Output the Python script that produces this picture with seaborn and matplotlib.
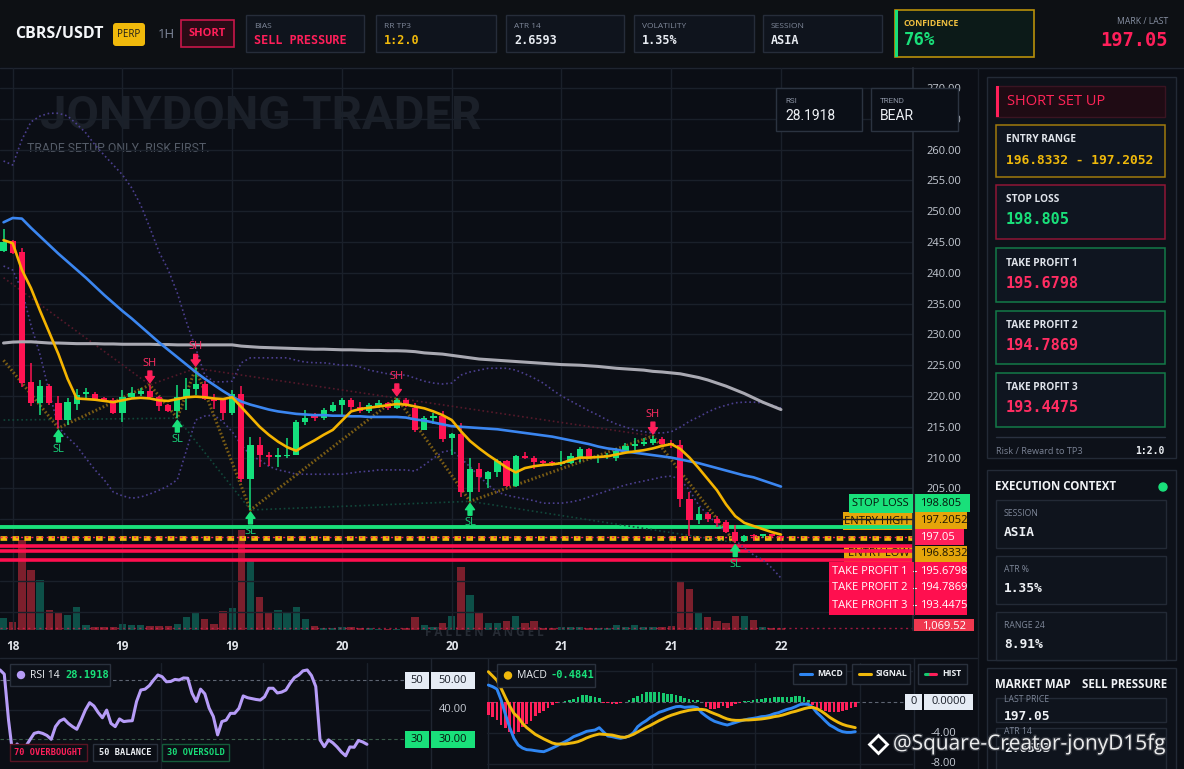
import numpy as np
import pandas as pd
import seaborn as sns
import matplotlib.pyplot as plt
from matplotlib.patches import Rectangle, FancyBboxPatch, Circle
import matplotlib.patheffects as pe

# ---------------------------------------
# Price data (1H candles)
# ---------------------------------------
opens = [243.6, 245.2, 243.4, 222.2, 218.8, 221.6, 218.8, 216.1, 218.7, 220.3,
         220.3, 219.6, 219.35, 217.3, 219.8, 220.3, 220.8, 219.8, 218.55, 217.6,
         219.8, 221.1, 222.0, 219.5, 219.5, 217.2, 220.3, 206.6, 212.0, 210.4,
         210.1, 210.2, 210.4, 215.7, 216.7, 216.4, 217.6, 218.5, 219.35, 218.2,
         217.6, 218.3, 218.8, 218.0, 219.35, 218.0, 214.5, 216.4, 216.75, 213.2,
         213.8, 204.4, 208.2, 206.6, 207.7, 209.45, 205.4, 210.3, 210.0, 209.45,
         209.3, 209.0, 209.05, 210.05, 211.4, 210.0, 210.1, 209.9, 211.0, 211.9,
         212.2, 212.4, 213.0, 212.3, 212.0, 203.35, 199.8, 200.8, 200.0, 199.5,
         198.0, 196.4, 197.3, 197.2, 197.3, 197.25]
highs = [247.1, 245.3, 244.0, 225.4, 222.6, 221.9, 220.0, 219.7, 221.1, 221.3,
         220.6, 219.9, 219.7, 220.9, 221.5, 221.3, 221.8, 220.0, 218.7, 221.8,
         222.9, 224.5, 222.4, 220.3, 219.7, 220.9, 221.6, 213.3, 213.3, 210.9,
         211.6, 213.2, 216.1, 217.7, 217.2, 218.0, 219.0, 219.7, 219.7, 219.0,
         218.9, 219.35, 219.0, 219.7, 219.6, 218.9, 216.75, 217.3, 217.5, 214.0,
         215.6, 209.9, 209.1, 207.8, 209.7, 209.6, 210.5, 210.85, 210.3, 209.6,
         209.5, 211.0, 210.7, 211.7, 211.6, 210.4, 210.7, 211.5, 212.4, 213.2,
         213.2, 213.5, 213.3, 212.9, 212.9, 204.4, 202.0, 201.2, 200.5, 199.8,
         199.0, 197.45, 197.6, 197.6, 197.4, 197.35]
lows = [243.3, 243.0, 221.4, 218.3, 216.9, 218.5, 214.8, 215.3, 217.7, 219.4,
        219.2, 219.0, 217.1, 215.7, 219.7, 220.0, 219.7, 217.6, 217.4, 216.4,
        217.7, 220.2, 219.4, 217.9, 216.1, 216.9, 206.0, 201.5, 208.5, 208.6,
        208.5, 209.9, 210.4, 215.3, 215.9, 216.1, 217.4, 216.8, 217.7, 217.2,
        217.2, 218.0, 217.7, 217.9, 218.2, 214.2, 214.4, 215.5, 212.6, 210.5,
        203.6, 202.9, 204.4, 205.0, 206.8, 205.2, 205.2, 209.7, 208.2, 208.7,
        208.6, 208.7, 208.9, 209.3, 209.8, 209.1, 209.7, 209.5, 210.8, 211.2,
        211.9, 212.1, 211.8, 211.5, 201.9, 197.2, 199.3, 199.6, 198.7, 197.7,
        196.2, 196.3, 196.4, 197.0, 197.1, 196.4]
closes = [245.05, 243.2, 222.1, 218.8, 221.6, 218.8, 216.1, 219.1, 220.2, 220.5,
          219.5, 219.35, 217.2, 219.8, 220.55, 220.8, 219.8, 218.4, 217.6, 219.8,
          221.1, 222.0, 219.5, 219.25, 217.2, 220.3, 206.6, 212.0, 210.4, 210.1,
          210.4, 210.4, 215.8, 216.5, 216.4, 217.7, 218.55, 219.35, 218.2, 217.6,
          218.55, 218.8, 218.0, 219.35, 218.5, 214.5, 216.5, 216.75, 213.1, 213.9,
          204.4, 208.2, 206.8, 207.7, 209.45, 205.4, 210.3, 209.9, 209.3, 209.05,
          209.05, 209.2, 210.3, 211.4, 210.05, 210.15, 210.2, 211.0, 211.9, 212.2,
          212.6, 213.0, 212.2, 212.1, 203.35, 199.8, 200.8, 200.0, 199.4, 198.0,
          196.4, 197.3, 197.2, 197.55, 197.25, 197.05]
volumes = [7300, 5200, 56700, 38000, 31700, 12800, 11500, 9600, 14700, 3300,
           1700, 1700, 1700, 4000, 3300, 3300, 2700, 2300, 2300, 4000,
           8400, 11500, 7100, 4000, 12200, 14000, 63200, 43700, 21000, 10900,
           12800, 10900, 14700, 7100, 2700, 1450, 1450, 2100, 2100, 1450,
           1450, 820, 820, 820, 1450, 8400, 3300, 2100, 4600, 9000,
           39900, 22200, 11500, 4600, 4600, 5900, 9000, 4200, 5900, 1260,
           1070, 2100, 2100, 2100, 1070, 1070, 1070, 3000, 1700, 3300,
           2100, 1700, 2100, 2700, 31000, 25800, 11200, 8400, 5500, 4600,
           9000, 9000, 6500, 1700, 1070, 1070]

ema_fast = [245.3, 244.8, 240.5, 237.5, 233.8, 230.3, 226.8, 222.8, 219.6, 219.5,
            219.4, 219.2, 219.0, 219.3, 219.6, 219.7, 219.6, 219.3, 219.2, 219.5,
            219.8, 219.9, 219.8, 219.6, 219.5, 219.8, 218.2, 216.6, 215.0, 213.7,
            212.6, 211.7, 211.1, 212.0, 212.8, 213.7, 214.5, 216.0, 217.5, 217.9,
            218.1, 218.3, 218.5, 218.7, 218.6, 218.3, 218.0, 217.5, 216.9, 216.1,
            214.3, 212.7, 211.5, 210.4, 209.4, 208.4, 207.6, 208.3, 208.6, 208.8,
            208.9, 209.1, 209.6, 210.0, 210.0, 210.1, 210.2, 210.5, 210.8, 211.0,
            211.2, 211.5, 211.9, 212.2, 211.4, 210.0, 208.3, 206.5, 204.7, 202.4,
            200.5, 199.4, 198.9, 198.4, 197.9, 197.5]
ema_slow = [248.2, 248.9, 248.8, 247.3, 245.9, 244.5, 243.1, 241.8, 240.5, 239.2,
            237.8, 236.4, 235.1, 233.8, 232.6, 231.3, 230.0, 228.7, 227.5, 226.3,
            225.1, 223.9, 222.8, 221.8, 220.8, 219.9, 219.1, 218.6, 218.2, 217.8,
            217.5, 217.3, 217.1, 217.0, 216.9, 216.9, 216.8, 216.8, 216.7, 216.7,
            216.6, 216.6, 216.6, 216.6, 216.5, 216.2, 216.0, 215.7, 215.4, 215.1,
            215.0, 214.9, 214.8, 214.7, 214.6, 214.4, 214.2, 214.0, 213.8, 213.6,
            213.4, 213.1, 212.8, 212.5, 212.2, 211.8, 211.5, 211.3, 211.0, 210.8,
            210.6, 210.4, 210.2, 210.0, 209.7, 209.4, 209.1, 208.7, 208.3, 207.9,
            207.5, 207.1, 206.8, 206.3, 205.8, 205.3]
sma_long = [228.6, 228.75, 228.8, 228.8, 228.7, 228.6, 228.6, 228.55, 228.5, 228.5,
            228.5, 228.45, 228.45, 228.4, 228.4, 228.4, 228.4, 228.35, 228.35, 228.3,
            228.3, 228.3, 228.3, 228.3, 228.3, 228.3, 228.1, 228.0, 227.9, 227.85,
            227.8, 227.75, 227.7, 227.65, 227.6, 227.6, 227.55, 227.5, 227.5, 227.45,
            227.4, 227.4, 227.35, 227.35, 227.3, 227.2, 227.0, 226.9, 226.8, 226.6,
            226.4, 226.2, 226.0, 225.9, 225.8, 225.7, 225.6, 225.5, 225.4, 225.3,
            225.2, 225.1, 225.05, 225.0, 224.9, 224.8, 224.65, 224.5, 224.4, 224.3,
            224.2, 224.0, 223.9, 223.75, 223.6, 223.3, 223.0, 222.6, 222.1, 221.6,
            221.0, 220.4, 219.7, 219.0, 218.4, 217.8]
bb_upper = [258.15, 257.5, 261.6, 264.5, 265.45, 265.9, 265.9, 265.45, 264.15, 262.7,
            260.75, 259.1, 257.5, 255.9, 253.8, 251.0, 247.3, 243.4, 240.5, 236.7,
            232.0, 227.8, 223.4, 222.3, 222.3, 222.4, 225.4, 226.2, 226.2, 226.2,
            226.2, 226.2, 225.8, 225.5, 225.4, 225.4, 225.2, 225.0, 225.0, 224.7,
            224.2, 223.9, 223.6, 223.4, 223.4, 222.9, 222.4, 222.1, 221.95, 222.1,
            223.4, 223.9, 224.2, 224.5, 224.5, 224.5, 224.2, 223.6, 222.9, 222.1,
            221.0, 220.0, 219.2, 218.4, 217.6, 216.9, 216.1, 215.45, 214.95, 214.5,
            214.2, 214.0, 214.0, 214.2, 214.95, 215.9, 216.6, 217.4, 218.05, 218.5,
            218.9, 219.0, 219.0, 218.9, 218.5, 218.05]
bb_lower = [241.1, 240.45, 237.2, 231.5, 226.65, 220.65, 214.95, 213.3, 211.9, 209.9,
            208.0, 206.4, 204.4, 203.8, 203.4, 203.6, 204.1, 204.7, 205.4, 206.4,
            211.2, 216.1, 216.75, 216.9, 215.8, 214.2, 212.05, 210.4, 209.6, 208.6,
            208.0, 207.7, 207.3, 207.3, 207.3, 207.3, 207.3, 207.3, 207.5, 207.7,
            207.8, 208.0, 208.0, 208.0, 208.0, 207.8, 208.8, 209.9, 210.9, 211.2,
            209.9, 208.5, 207.0, 205.55, 204.4, 203.9, 203.6, 203.3, 203.0, 202.6,
            202.6, 202.6, 202.8, 203.1, 203.6, 204.1, 204.6, 205.1, 205.55, 205.9,
            206.2, 206.5, 206.85, 207.0, 206.4, 204.7, 202.3, 200.7, 199.2, 197.9,
            196.6, 195.3, 194.2, 193.4, 192.1, 190.45]

date_ticks = [1, 13, 25, 37, 49, 61, 73, 85]
date_labels = ['18', '19', '19', '20', '20', '21', '21', '22']

swing_high_idx = [16, 21, 43, 71]
swing_low_idx = [6, 19, 27, 51, 80]
zigzag_idx = [0, 6, 16, 19, 21, 27, 43, 51, 71, 80]
zigzag_val = [225.8, 214.8, 221.8, 216.4, 224.5, 201.5, 219.7, 202.9, 213.5, 196.2]
res_idx = [0, 16, 21, 71]
res_val = [239.2, 221.8, 224.5, 213.5]
sup_idx = [0, 19, 27, 51, 80]
sup_val = [216.1, 216.4, 201.5, 202.9, 196.2]

stop_loss = 198.805
entry_high = 197.2052
entry_low = 196.8332
last_price = 197.05
take_profits = [195.6798, 194.7869, 193.4475]
vol_ma = 1069.52

# ---------------------------------------
# Oscillators
# ---------------------------------------
rsi = [53.4, 52.0, 36.4, 24.6, 28.3, 26.8, 27.4, 29.7, 31.9, 32.3,
       31.9, 31.2, 29.9, 34.2, 36.1, 36.8, 35.3, 34.2, 33.3, 36.4,
       39.8, 42.3, 41.2, 39.0, 37.2, 39.8, 35.3, 34.2, 36.8, 35.9,
       36.1, 36.2, 42.7, 46.6, 46.9, 48.1, 50.0, 51.7, 51.1, 49.4,
       49.5, 50.2, 50.0, 50.7, 50.6, 45.5, 42.7, 46.9, 45.3, 40.5,
       37.6, 31.4, 35.9, 36.4, 38.7, 38.7, 40.4, 44.6, 44.0, 43.7,
       43.4, 43.2, 44.3, 47.2, 47.2, 45.6, 45.9, 46.6, 48.9, 50.8,
       51.7, 53.1, 53.4, 51.5, 47.8, 29.7, 27.4, 29.7, 28.7, 27.3,
       25.6, 24.3, 27.3, 27.2, 29.5, 29.0, 28.2]
macd = [2.15, 1.94, 1.64, 0.22, -1.63, -3.31, -4.73, -5.59, -5.98, -6.19,
        -6.23, -6.32, -6.40, -6.45, -6.23, -5.98, -5.72, -5.42, -5.16, -4.86,
        -4.51, -4.30, -4.08, -3.83, -3.74, -3.65, -3.35, -3.91, -4.43, -4.51,
        -4.64, -4.73, -4.60, -4.43, -4.00, -3.22, -2.79, -2.45, -2.02, -1.72,
        -1.37, -1.20, -0.99, -0.81, -0.64, -0.60, -0.73, -0.68, -0.64, -0.77,
        -1.42, -1.85, -2.23, -2.53, -2.71, -2.88, -3.01, -2.84, -2.67, -2.49,
        -2.36, -2.23, -2.15, -2.06, -1.93, -1.89, -1.76, -1.55, -1.42, -1.20,
        -0.99, -0.86, -0.64, -0.38, -0.30, -0.34, -0.73, -1.42, -1.93, -2.49,
        -3.01, -3.31, -3.65, -3.87, -3.96, -3.96, -3.87]
signal = [3.87, 3.32, 2.76, 1.73, 0.56, -0.55, -1.50, -2.02, -2.79, -3.35,
          -3.78, -4.21, -4.51, -4.81, -5.07, -5.33, -5.46, -5.46, -5.46, -5.37,
          -5.29, -5.16, -4.94, -4.68, -4.47, -4.30, -4.17, -4.21, -4.25, -4.30,
          -4.43, -4.56, -4.60, -4.43, -4.21, -3.91, -3.61, -3.31, -3.05, -2.75,
          -2.45, -2.19, -1.93, -1.72, -1.55, -1.37, -1.24, -1.11, -1.03, -0.99,
          -0.99, -1.07, -1.33, -1.55, -1.76, -2.02, -2.23, -2.36, -2.41, -2.41,
          -2.36, -2.36, -2.32, -2.28, -2.23, -2.15, -2.06, -1.93, -1.85, -1.72,
          -1.55, -1.37, -1.24, -1.07, -0.90, -0.77, -0.73, -0.90, -1.20, -1.59,
          -2.02, -2.36, -2.67, -2.92, -3.10, -3.22, -3.35]
hist = [-1.72, -1.93, -2.36, -3.01, -3.44, -3.95, -4.21, -3.87, -3.31, -2.88,
        -2.45, -1.80, -1.50, -1.24, -0.77, -0.47, -0.17, 0.02, 0.09, 0.26,
        0.39, 0.61, 0.82, 0.86, 0.78, 0.65, 0.48, -0.12, -0.21, -0.30,
        -0.30, -0.21, -0.08, 0.22, 0.48, 0.69, 1.04, 1.21, 1.29, 1.29,
        1.21, 1.12, 1.04, 0.95, 0.82, 0.69, 0.48, 0.35, 0.26, 0.18,
        -0.08, -0.73, -0.94, -0.98, -0.77, -0.60, -0.81, -0.60, -0.34, -0.12,
        0.03, 0.13, 0.22, 0.31, 0.39, 0.48, 0.48, 0.56, 0.56, 0.56,
        0.65, 0.65, 0.74, 0.74, 0.56, 0.22, -0.43, -0.86, -0.98, -1.16,
        -1.29, -1.29, -1.29, -1.20, -1.07, -0.86, -0.73]

price = pd.DataFrame({
    'i': np.arange(len(opens)), 'open': opens, 'high': highs, 'low': lows,
    'close': closes, 'volume': volumes, 'ema_fast': ema_fast,
    'ema_slow': ema_slow, 'sma_long': sma_long,
    'bb_upper': bb_upper, 'bb_lower': bb_lower,
})
osc = pd.DataFrame({'k': np.arange(len(rsi)), 'rsi': rsi, 'macd': macd,
                    'signal': signal, 'hist': hist})

# ---------------------------------------
# Styling
# ---------------------------------------
BG = '#0b0e15'
GRID = '#1a202a'
UP = '#14e07c'
DN = '#ff1352'
YEL = '#f0b90b'
GRN = '#19e07a'
RED = '#ff1f5a'
SANS = ['Open Sans', 'DejaVu Sans']
MONO = ['DejaVu Sans Mono']

sns.set_theme(style="dark", rc={'axes.facecolor': BG, 'figure.facecolor': BG})
plt.rcParams['font.family'] = SANS
plt.rcParams['lines.scale_dashes'] = False

W, H = 1184, 769
fig = plt.figure(figsize=(W / 100, H / 100), dpi=100)


def px_axes(x0, y0, x1, y1, z):
    return fig.add_axes([x0 / W, 1 - y1 / H, (x1 - x0) / W, (y1 - y0) / H], zorder=z)


def canvas(z):
    a = px_axes(0, 0, W, H, z)
    a.set_xlim(0, W)
    a.set_ylim(H, 0)
    a.axis('off')
    return a


def box(a, x0, y0, x1, y1, fc='none', ec='none', lw=1.0, z=1, r=0):
    if r:
        p = FancyBboxPatch((x0, y0), x1 - x0, y1 - y0, boxstyle=f"round,pad=0,rounding_size={r}",
                           facecolor=fc, edgecolor=ec, linewidth=lw, zorder=z)
    else:
        p = Rectangle((x0, y0), x1 - x0, y1 - y0, facecolor=fc, edgecolor=ec, linewidth=lw, zorder=z)
    a.add_patch(p)


def txt(a, x, y, s, size=8, color='white', ha='left', weight='normal', family=None, z=5, **kw):
    a.text(x, y, s, fontsize=size, color=color, ha=ha, va='center', fontweight=weight,
           family=family or SANS, zorder=z, **kw)


bg = canvas(0)
ov = canvas(10)

# backgrounds
box(bg, 0, 0, W, H, fc=BG, z=0)
box(bg, 0, 0, W, 67, fc='#0d1014', z=0.5)
bg.plot([0, W], [67.5, 67.5], color='#1f2530', lw=1, zorder=1)
bg.plot([0, 977], [657.5, 657.5], color='#1f2530', lw=1, zorder=1)
bg.plot([977.5, 977.5], [68, H], color='#1a1f29', lw=1, zorder=1)
bg.plot([487.5, 487.5], [658, H], color='#1f2530', lw=1, zorder=1)
bg.plot([430.5, 430.5], [658, H], color='#1f2530', lw=1, zorder=1)
bg.plot([913.5, 913.5], [658, H], color='#1f2530', lw=1, zorder=1)

# watermark
txt(bg, 40, 116, 'JONYDONG TRADER', size=34, color='#1b2029', weight='bold',
    family=['Roboto', 'DejaVu Sans'])
txt(bg, 27, 149, 'TRADE SETUP ONLY. RISK FIRST.', size=8.8, color='#555c68',
    family=['Roboto', 'DejaVu Sans'])
txt(bg, 425, 632, 'F A L L E N   A N G E L', size=8.5, color='#262b34', weight='bold')

# ---------------------------------------
# Main price chart
# ---------------------------------------
XL = ((0 - 3.55) / 9.146, (913 - 3.55) / 9.146)
YL = (270 - (630 - 88) / 6.16, 270 + (88 - 68) / 6.16)

axv = px_axes(0, 68, 913, 630, 1)
axv.set_xlim(XL)
axv.set_ylim(0, 562 * 630)
axv.axis('off')
vol_col = np.where(price['close'] >= price['open'], '#0d5048', '#7c1f2c')
axv.bar(price['i'], price['volume'], width=0.8, color=vol_col, linewidth=0, zorder=1)
axv.axhline(vol_ma, color=RED, lw=1, ls=(0, (1.5, 2.5)), alpha=0.6, zorder=2)

ax = px_axes(0, 68, 913, 630, 2)
ax.set_facecolor('none')
ax.set_xlim(XL)
ax.set_ylim(YL)
ax.set_axisbelow(True)
ax.grid(True, color=GRID, lw=1)

yt = np.arange(185, 271, 5)
ax.set_yticks(yt)
ax.set_yticklabels([f'{v:.2f}' if v >= 205 else '' for v in yt])
ax.yaxis.tick_right()
ax.tick_params(axis='y', colors='#c5cad3', labelsize=8, length=0, pad=10)
ax.set_xticks(date_ticks)
ax.set_xticklabels(date_labels)
ax.tick_params(axis='x', colors='#e3e6ec', labelsize=8.5, length=0, pad=7)
for lab in ax.get_xticklabels():
    lab.set_fontweight('bold')
for s in ['top', 'left', 'bottom']:
    ax.spines[s].set_visible(False)
ax.spines['right'].set_color('#262c37')

# level lines
ax.axhline(stop_loss, color=GRN, lw=2.8, zorder=2)
ax.axhline((entry_high + entry_low) / 2, color=YEL, lw=3.4, ls=(0, (4.8, 3.8)), zorder=2)
ax.axhline(last_price, color=RED, lw=1.0, ls=(0, (1.5, 2.2)), zorder=2.1)
for tp in take_profits:
    ax.axhline(tp, color='#ff0f4f', lw=2.6, zorder=2)

# bands / structure lines
ax.plot(price['i'], price['bb_upper'], color='#4b3f8f', lw=1.2, ls=(0, (1.2, 2)), zorder=2.5)
ax.plot(price['i'], price['bb_lower'], color='#4b3f8f', lw=1.2, ls=(0, (1.2, 2)), zorder=2.5)
ax.plot(res_idx, res_val, color='#55192a', lw=1.2, ls=(0, (1.2, 2)), zorder=2.5)
ax.plot(sup_idx, sup_val, color='#11473a', lw=1.2, ls=(0, (1.2, 2)), zorder=2.5)
ax.plot(zigzag_idx, zigzag_val, color='#7a5c14', lw=2.2, ls=(0, (1.2, 1.6)), zorder=2.6)

# candles
col = np.where(price['close'] >= price['open'], UP, DN)
ax.vlines(price['i'], price['low'], price['high'], colors=col, lw=1.1, zorder=3)
body_lo = np.minimum(price['open'], price['close'])
body_h = np.maximum((price['close'] - price['open']).abs(), 0.3)
ax.bar(price['i'], body_h, bottom=body_lo, width=0.68, color=col, linewidth=0, zorder=3.1)

# moving averages
sns.lineplot(data=price, x='i', y='sma_long', ax=ax, color='#a9a9b2', linewidth=2.2, zorder=4)
sns.lineplot(data=price, x='i', y='ema_slow', ax=ax, color='#3b86f0', linewidth=1.9, zorder=4.1)
sns.lineplot(data=price, x='i', y='ema_fast', ax=ax, color='#f5b400', linewidth=1.9, zorder=4.2)
ax.set_xlabel('')
ax.set_ylabel('')

# swing markers
arrow = 'simple,head_width=0.65,head_length=0.45,tail_width=0.28'
for i in swing_high_idx:
    ax.annotate('', xy=(i, highs[i]), xytext=(0, 10), textcoords='offset points',
                arrowprops=dict(arrowstyle=arrow, color='#ff1f5a', shrinkA=0, shrinkB=1.5,
                                mutation_scale=10), zorder=6)
    ax.annotate('SH', xy=(i, highs[i]), xytext=(0, 15.5), textcoords='offset points',
                ha='center', va='center', color='#ff2d62', fontsize=8, zorder=6)
for i in swing_low_idx:
    ax.annotate('', xy=(i, lows[i]), xytext=(0, -10), textcoords='offset points',
                arrowprops=dict(arrowstyle=arrow, color=GRN, shrinkA=0, shrinkB=1.5,
                                mutation_scale=10), zorder=6)
    ax.annotate('SL', xy=(i, lows[i]), xytext=(0, -15.5), textcoords='offset points',
                ha='center', va='center', color='#19d27a', fontsize=8, zorder=6)

# price tags (entry tags sit under the level lines)
box(bg, 843, 512, 913, 530, fc='#e5a50a', z=2)
txt(bg, 909, 521, 'ENTRY HIGH', size=8, color='#1a1405', ha='right', z=3)
box(bg, 844, 546, 913, 562, fc='#e5a50a', z=2)
txt(bg, 909, 554, 'ENTRY LOW', size=8, color='#1a1405', ha='right', z=3)

box(ov, 849, 494, 913, 513, fc=GRN)
txt(ov, 909, 503.5, 'STOP LOSS', size=8, color='#06140c', ha='right')
box(ov, 914, 494, 970, 512, fc=GRN)
txt(ov, 920, 503.5, '198.805', size=8, color='#06140c')
box(ov, 914, 512, 967, 529, fc='#e5a50a')
txt(ov, 920, 520.5, '197.2052', size=8, color='#1a1405')
box(ov, 914, 529, 964, 545, fc=RED)
txt(ov, 920, 537, '197.05', size=8, color='white')
box(ov, 914, 546, 967, 562, fc='#e5a50a')
txt(ov, 920, 554, '196.8332', size=8, color='#1a1405')
box(ov, 829, 562, 967, 615, fc='#ff0f4f')
for j, (lab, val) in enumerate(zip(['TAKE PROFIT 1', 'TAKE PROFIT 2', 'TAKE PROFIT 3'],
                                   ['195.6798', '194.7869', '193.4475'])):
    yy = 571 + 17 * j
    txt(ov, 908, yy, lab, size=8, color='white', ha='right')
    txt(ov, 920, yy, val, size=8, color='white')
    ov.plot([913, 916], [yy, yy], color='white', lw=0.8, zorder=6)
ov.plot([913.5, 913.5], [494, 615], color='#222833', lw=0.8, zorder=6)
box(ov, 914, 619, 974, 631, fc='#f0384f')
txt(ov, 944, 626, '1,069.52', size=8, color='white', ha='center')

# RSI / TREND chips
for x0, x1, lab, val in [(776, 862, 'RSI', '28.1918'), (871, 958, 'TREND', 'BEAR')]:
    box(ov, x0, 88, x1, 131, fc='#0b0f17', ec='#2b3340', lw=1, z=4)
    txt(ov, x0 + 9, 101, lab, size=5.8, color='#8b93a3', family=['Roboto', 'DejaVu Sans'])
    txt(ov, x0 + 9, 116, val, size=10, color='#eef1f5', family=['Roboto', 'DejaVu Sans'])

# ---------------------------------------
# Header
# ---------------------------------------
txt(ov, 15, 34, 'CBRS/USDT', size=11.5, weight='bold', color='#f4f6f9')
box(ov, 113, 23, 145, 46, fc=YEL, r=3)
txt(ov, 129, 34.5, 'PERP', size=7, color='#1a1a1a', ha='center')
txt(ov, 158, 34, '1H', size=9.5, color='#7d8699')
box(ov, 181, 20, 234, 47, fc='#2a0b16', ec='#c8174a', lw=1.2)
txt(ov, 207.5, 34, 'SHORT', size=8, weight='bold', color=RED, ha='center')
for x0, x1, lab, val, vc in [(246, 364, 'BIAS', 'SELL PRESSURE', RED),
                             (376, 496, 'RR TP3', '1:2.0', YEL),
                             (506, 624, 'ATR 14', '2.6593', '#e8ecf2'),
                             (634, 754, 'VOLATILITY', '1.35%', '#e8ecf2'),
                             (763, 882, 'SESSION', 'ASIA', '#e8ecf2')]:
    box(ov, x0, 15, x1, 52, fc='#0f141d', ec='#262d3a', lw=1)
    txt(ov, x0 + 8, 26, lab, size=6, color='#7f889a')
    txt(ov, x0 + 8, 40.5, val, size=8.5, weight='bold', color=vc, family=MONO)
box(ov, 895, 10, 1034, 57, fc='#0c1a18', ec='#b8900a', lw=1.2)
box(ov, 895, 10, 898, 57, fc=GRN)
txt(ov, 904, 23, 'CONFIDENCE', size=6.2, weight='bold', color='#f0c040')
txt(ov, 904, 40, '76%', size=12.5, weight='bold', color=GRN, family=MONO)
txt(ov, 1168, 22, 'MARK / LAST', size=6.2, color='#8a93a6', ha='right')
txt(ov, 1168, 40, '197.05', size=13.5, weight='bold', color=RED, ha='right', family=MONO)

# ---------------------------------------
# Right panel: short set up
# ---------------------------------------
box(bg, 987, 77, 1176, 458, fc='#0d1119', ec='#232a36', lw=1, z=1)
box(ov, 996, 86, 1165, 117, fc='#1f0b14', ec='#3a1422', lw=1)
box(ov, 996, 86, 999, 117, fc=RED)
txt(ov, 1007, 101.5, 'SHORT SET UP', size=10.5, color='#ff2457')
for y0, y1, lab, val, ec, vc, vs in [(125, 177, 'ENTRY RANGE', '196.8332 - 197.2052', '#a07a0c', YEL, 9.3),
                                     (185, 239, 'STOP LOSS', '198.805', '#8f1536', GRN, 11),
                                     (248, 302, 'TAKE PROFIT 1', '195.6798', '#137a48', '#ff2d62', 11),
                                     (311, 364, 'TAKE PROFIT 2', '194.7869', '#137a48', '#ff2d62', 11),
                                     (373, 427, 'TAKE PROFIT 3', '193.4475', '#137a48', '#ff2d62', 11)]:
    box(ov, 996, y0, 1165, y1, fc='#0f1520', ec=ec, lw=1.1)
    txt(ov, 1006, y0 + 15, lab, size=7.3, weight='bold', color='#dfe3ea')
    txt(ov, 1006, y0 + 35, val, size=vs, weight='bold', color=vc, family=MONO)
ov.plot([996, 1165], [436.5, 436.5], color='#2a3140', lw=1)
txt(ov, 996, 451, 'Risk / Reward to TP3', size=6.6, color='#7a8294')
txt(ov, 1165, 451, '1:2.0', size=7, weight='bold', color='#eef1f5', ha='right', family=MONO)

# execution context
box(bg, 987, 470, 1176, 660, fc='#0d1119', ec='#232a36', lw=1, z=1)
txt(ov, 995, 486, 'EXECUTION CONTEXT', size=8.3, weight='bold', color='#f1f3f6')
ov.add_patch(Circle((1163, 487), 4, color=GRN, zorder=5))
for y0, lab, val in [(500, 'SESSION', 'ASIA'), (556, 'ATR %', '1.35%'), (612, 'RANGE 24', '8.91%')]:
    box(ov, 996, y0, 1166, min(y0 + 48, 660), fc='#0f141d', ec='#232a36', lw=1)
    txt(ov, 1004, y0 + 13, lab, size=6.2, color='#7f889a')
    txt(ov, 1004, y0 + 32, val, size=9.3, weight='bold', color='#eef1f5', family=MONO)

# market map
box(bg, 987, 668, 1176, 780, fc='#0d1119', ec='#232a36', lw=1, z=1)
txt(ov, 995, 684, 'MARKET MAP', size=8.3, weight='bold', color='#f1f3f6')
txt(ov, 1082, 684, 'SELL PRESSURE', size=8.3, weight='bold', color='#f1f3f6')
box(ov, 996, 698, 1166, 722, fc='#0f141d', ec='#232a36', lw=1)
txt(ov, 1004, 700, 'LAST PRICE', size=6.2, color='#7f889a')
txt(ov, 1004, 717, '197.05', size=9.3, weight='bold', color='#eef1f5', family=MONO)
box(ov, 996, 728, 1166, 780, fc='#0f141d', ec='#232a36', lw=1)
txt(ov, 1004, 731, 'ATR 14', size=6.2, color='#7f889a')
txt(ov, 1004, 748, '2.6593', size=9.3, weight='bold', color='#eef1f5', family=MONO)

# ---------------------------------------
# RSI panel
# ---------------------------------------
ax_r = px_axes(0, 663, 430, 769, 2)
ax_r.set_facecolor('none')
ax_r.set_xlim(0, 430 / 4.267)
ax_r.set_ylim(50 - (769 - 680) / 2.95, 50 + (680 - 663) / 2.95)
ax_r.axis('off')
ax_r.axhline(40, color=GRID, lw=1, zorder=0)
for xv in [37.7, 61.6, 86.0]:
    ax_r.axvline(xv, color=GRID, lw=1, zorder=0)
ax_r.axhline(50, color='#5e6572', lw=0.8, ls=(0, (2.5, 2)), zorder=1)
ax_r.axhline(30, color='#3a5a4a', lw=0.8, ls=(0, (2.5, 2)), zorder=1)
sns.lineplot(data=osc, x='k', y='rsi', ax=ax_r, color='#b69cf7', linewidth=2.2, zorder=3)

box(ov, 10, 664, 110, 686, fc='#0d1119', ec='#2a313d', lw=1)
ov.add_patch(Circle((21, 675), 3.5, color='#b69cf7', zorder=6))
txt(ov, 30, 675, 'RSI 14', size=7.5, color='#eef1f5')
txt(ov, 65, 675, '28.1918', size=7.5, weight='bold', color=GRN, family=MONO)
for x0, x1, s, c, ec in [(10, 87, '70 OVERBOUGHT', RED, '#5a1424'),
                         (93, 157, '50 BALANCE', '#eef1f5', '#2a313d'),
                         (162, 229, '30 OVERSOLD', GRN, '#145c3a')]:
    box(ov, x0, 744, x1, 761, fc='#0b0e15', ec=ec, lw=1)
    txt(ov, (x0 + x1) / 2, 752.5, s, size=6.2, weight='bold', color=c, ha='center', family=MONO)
box(ov, 405, 672, 429, 689, fc='#e6ecf5')
txt(ov, 417, 680.5, '50', size=8, color='#1a1f29', ha='center')
box(ov, 431, 672, 475, 689, fc='#e6ecf5')
txt(ov, 453, 680.5, '50.00', size=8, color='#1a1f29', ha='center')
txt(ov, 453, 710, '40.00', size=8, color='#c5cad3', ha='center')
box(ov, 405, 731, 429, 748, fc=GRN)
txt(ov, 417, 739.5, '30', size=8, color='#06140c', ha='center')
box(ov, 431, 731, 475, 748, fc=GRN)
txt(ov, 453, 739.5, '30.00', size=8, color='#06140c', ha='center')

# ---------------------------------------
# MACD panel
# ---------------------------------------
ax_m = px_axes(487, 663, 913, 769, 2)
ax_m.set_facecolor('none')
ax_m.set_xlim((487 - 488.33) / 4.267, (913 - 488.33) / 4.267)
ax_m.set_ylim(-(769 - 701.7) / 7.75, (701.7 - 663) / 7.75)
ax_m.axis('off')
for yv in [4, -4, -8]:
    ax_m.axhline(yv, color=GRID, lw=1, zorder=0)
for xv in [38.3, 62.5, 87.1]:
    ax_m.axvline(xv, color=GRID, lw=1, zorder=0)
ax_m.axhline(0, color='#5e6572', lw=0.8, ls=(0, (2.5, 2)), zorder=1)
ax_m.bar(osc['k'], osc['hist'], width=0.62, linewidth=0,
         color=np.where(osc['hist'] >= 0, '#16c96e', '#ff1f5a'), zorder=2)
sns.lineplot(data=osc, x='k', y='macd', ax=ax_m, color='#2f86f2', linewidth=2.1, zorder=3)
sns.lineplot(data=osc, x='k', y='signal', ax=ax_m, color=YEL, linewidth=2.1, zorder=3.1)

box(ov, 497, 664, 595, 687, fc='#0d1119', ec='#2a313d', lw=1)
ov.add_patch(Circle((508, 675.5), 3.5, color=YEL, zorder=6))
txt(ov, 517, 675.5, 'MACD', size=7.5, color='#eef1f5')
txt(ov, 551, 675.5, '-0.4841', size=7.5, weight='bold', color=GRN, family=MONO)
txt(ov, 933, 670, '4.00', size=8, color='#c5cad3', z=3)
for x0, x1, lab, c in [(793, 846, 'MACD', '#2f86f2'), (852, 910, 'SIGNAL', YEL), (918, 967, 'HIST', None)]:
    box(ov, x0, 664, x1, 684, fc='#0d1119', ec='#2a313d', lw=1, z=4)
    if c:
        ov.plot([x0 + 7, x0 + 19], [674, 674], color=c, lw=2.2, zorder=6)
    else:
        ov.plot([x0 + 7, x0 + 12], [674, 674], color='#16c96e', lw=2.2, zorder=6)
        ov.plot([x0 + 12, x0 + 18], [674, 674], color=RED, lw=2.2, zorder=6)
    txt(ov, x0 + 24, 674, lab, size=6.2, weight='bold', color='#eef1f5')
box(ov, 905, 694, 922, 710, fc='#e6ecf5')
txt(ov, 913.5, 702, '0', size=8, color='#1a1f29', ha='center')
box(ov, 924, 694, 973, 710, fc='#e6ecf5')
txt(ov, 948.5, 702, '0.0000', size=8, color='#1a1f29', ha='center')
txt(ov, 931, 733, '-4.00', size=8, color='#c5cad3')
txt(ov, 931, 764, '-8.00', size=8, color='#c5cad3')

# platform watermark
wm = ov.text(893, 744, '@Square-Creator-jonyD15fg', fontsize=15, color='white', alpha=0.9,
             ha='left', va='center', family=SANS, zorder=12)
wm.set_path_effects([pe.withStroke(linewidth=2, foreground='#30343c')])
ov.plot([878], [744], marker='D', ms=9, mfc='none', mec='white', mew=2, zorder=12)

# ---------------------------------------
# Save Output
# ---------------------------------------
plt.savefig('out.png', dpi=100, facecolor=BG)
plt.close()
